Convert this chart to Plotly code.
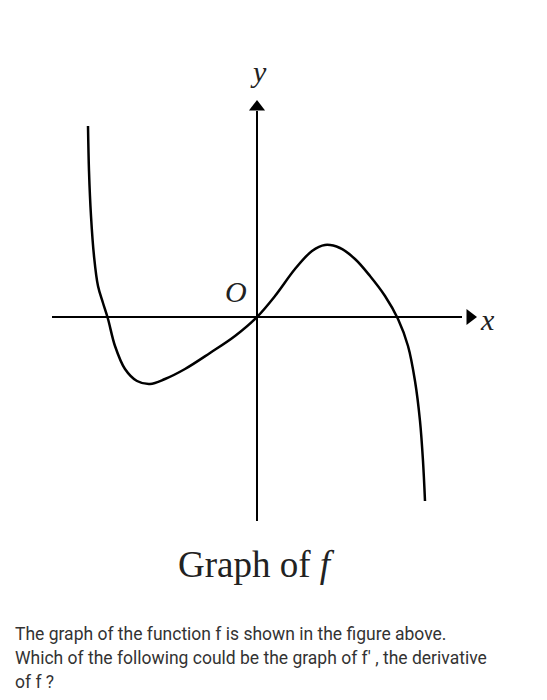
import plotly.graph_objects as go

# Curve of f (pixel coordinates, y downward)
curve_x = [88, 89, 91, 94, 98, 103, 108, 115, 125, 137, 150, 165, 185, 210, 235, 257,
           275, 295, 312, 325, 340, 355, 370, 385, 398, 408, 415, 420, 423, 425]
curve_y = [125, 170, 215, 255, 285, 302, 318, 345, 368, 380, 383, 378, 368, 352, 335, 316,
           295, 268, 250, 244, 247, 258, 275, 295, 318, 345, 380, 420, 460, 500]

question = ["The graph of the function f is shown in the figure above.",
            "Which of the following could be the graph of f' , the derivative",
            "of f ?"]

fig = go.Figure()
# axes
fig.add_trace(go.Scatter(x=[52, 462], y=[316, 316], mode="lines", line=dict(color="black", width=2)))
fig.add_trace(go.Scatter(x=[257, 257], y=[520, 110], mode="lines", line=dict(color="black", width=2)))
fig.add_trace(go.Scatter(x=[470], y=[316], mode="markers",
                         marker=dict(symbol="triangle-right", size=14, color="black")))
fig.add_trace(go.Scatter(x=[257], y=[106], mode="markers",
                         marker=dict(symbol="triangle-up", size=14, color="black")))
# curve
fig.add_trace(go.Scatter(x=curve_x, y=curve_y, mode="lines", line=dict(color="black", width=2.5, shape="spline")))

serif = "Liberation Serif"
fig.add_annotation(x=258, y=70, text="<i>y</i>", showarrow=False, font=dict(family=serif, size=30, color="#222"))
fig.add_annotation(x=487, y=318, text="<i>x</i>", showarrow=False, font=dict(family=serif, size=30, color="#222"))
fig.add_annotation(x=236, y=290, text="<i>O</i>", showarrow=False, font=dict(family=serif, size=30, color="#222"))
fig.add_annotation(x=256, y=563, text="Graph of <i>f</i>", showarrow=False,
                   font=dict(family=serif, size=37, color="#222"))
for i, line in enumerate(question):
    fig.add_annotation(x=13, y=633 + 24 * i, text=line, showarrow=False, xanchor="left",
                       font=dict(family="Roboto", size=17.5, color="#333"))

fig.update_layout(width=547, height=700, margin=dict(l=0, r=0, t=0, b=0),
                  showlegend=False, plot_bgcolor="white", paper_bgcolor="white",
                  xaxis=dict(range=[8, 555], visible=False),
                  yaxis=dict(range=[707, 7], visible=False))
fig.write_html("out.html")
